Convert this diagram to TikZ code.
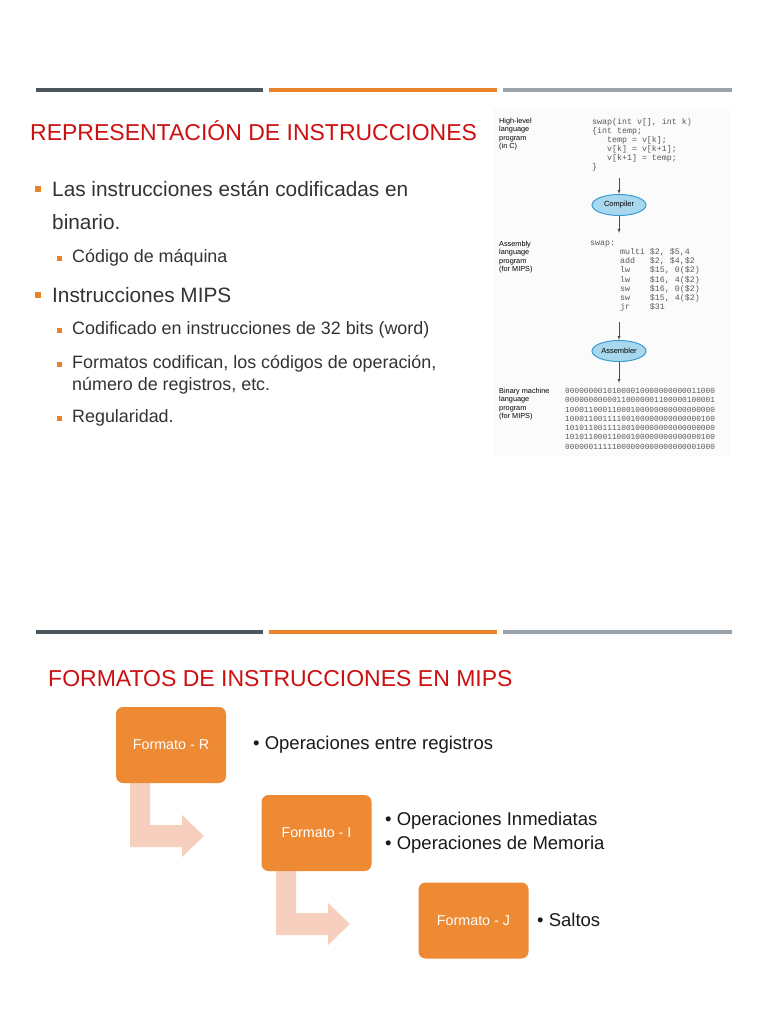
\documentclass[tikz,border=0pt]{standalone}
\usepackage{fontspec}
\setmainfont{Liberation Sans}
\setmonofont{Liberation Mono}
\usetikzlibrary{shapes.geometric}
\definecolor{dk}{HTML}{4A555C}
\definecolor{orn}{HTML}{E8832A}
\definecolor{gr}{HTML}{9BA3AA}
\definecolor{ttl}{HTML}{CC1010}
\definecolor{box}{HTML}{EE8A33}
\definecolor{pch}{HTML}{F6CFBE}
\definecolor{cyanfill}{HTML}{A8D8EE}
\definecolor{cyanline}{HTML}{3A9BD0}
\tikzset{
 rule/.style={line width=4pt},
 ttext/.style={anchor=west,text=ttl,font=\fontsize{23}{27}\selectfont,inner sep=0},
 b1/.style={anchor=west,font=\fontsize{20.8}{24}\selectfont,text=black!80,inner sep=0},
 b2/.style={anchor=west,font=\fontsize{17.9}{21}\selectfont,text=black!80,inner sep=0},
 sq/.style={fill=orn,minimum size=6pt,inner sep=0},
 lab/.style={anchor=north west,font=\fontsize{7.3}{8.3}\selectfont,align=left,inner sep=0},
 code/.style={anchor=north west,font=\ttfamily\fontsize{8.3}{9.1}\selectfont,align=left,inner sep=0,text=black!65},
 ell/.style={ellipse,draw=cyanline,fill=cyanfill,line width=1pt,minimum width=54pt,minimum height=21pt,font=\fontsize{7.5}{8}\selectfont,inner sep=0},
 arr/.style={->,>=latex,gray!60!black},
 fbox/.style={fill=box,rounded corners=7pt,minimum width=110pt,minimum height=76pt,text=white,font=\fontsize{14.3}{16}\selectfont},
 bt/.style={anchor=west,font=\fontsize{18.5}{24}\selectfont,align=left,inner sep=0,text=black!90},
 pa/.style={fill=pch}
}
\begin{document}
\begin{tikzpicture}[x=1pt,y=-1pt]
\useasboundingbox[fill=white] (0,0) rectangle (768,1024);
\foreach \yy in {90,632}{
 \draw[rule,dk] (36,\yy) -- (263,\yy);
 \draw[rule,orn] (269,\yy) -- (497,\yy);
 \draw[rule,gr] (503,\yy) -- (732,\yy);
}
\node[ttext] (t1) at (30,131) {REPRESENTACIÓN DE INSTRUCCIONES};
\node[sq] (s1) at (38,189) {}; \node[b1] (l1) at (52,189) {Las instrucciones están codificadas en};
\node[b1] (l1b) at (52,222) {binario.};
\node[sq,minimum size=5pt] (s2) at (59,258) {}; \node[b2] (l2) at (72,258) {Código de máquina};
\node[sq] (s3) at (38,295) {}; \node[b1] (l3) at (52,295) {Instrucciones MIPS};
\node[sq,minimum size=5pt] (s4) at (59,330) {}; \node[b2] (l4) at (72,330) {Codificado en instrucciones de 32 bits (word)};
\node[sq,minimum size=5pt] (s5) at (59,364) {}; \node[b2] (l5) at (72,364) {Formatos codifican, los códigos de operación,};
\node[b2] (l5b) at (72,386) {número de registros, etc.};
\node[sq,minimum size=5pt] (s6) at (59,418) {}; \node[b2] (l6) at (72,418) {Regularidad.};
% figure
\fill[black!1.5] (493,108) rectangle (730,456);
\node[lab] (h1) at (499,118) {High-level\\language\\program\\(in C)};
\node[code] (c1) at (592,118) {swap(int v[], int k)\\\{int temp;\\\ \ \ temp = v[k];\\\ \ \ v[k] = v[k+1];\\\ \ \ v[k+1] = temp;\\\}};
\node[ell] (comp) at (619,205) {Compiler};
\node[lab] (h2) at (499,241) {Assembly\\language\\program\\(for MIPS)};
\node[code] (c2) at (590,241) {swap:\\\ \ \ \ \ \ multi \$2, \$5,4\\\ \ \ \ \ \ add\ \ \ \$2, \$4,\$2\\\ \ \ \ \ \ lw\ \ \ \ \$15, 0(\$2)\\\ \ \ \ \ \ lw\ \ \ \ \$16, 4(\$2)\\\ \ \ \ \ \ sw\ \ \ \ \$16, 0(\$2)\\\ \ \ \ \ \ sw\ \ \ \ \$15, 4(\$2)\\\ \ \ \ \ \ jr\ \ \ \ \$31};
\node[ell] (asm) at (619,351) {Assembler};
\node[lab] (h3) at (499,388) {Binary machine\\language\\program\\(for MIPS)};
\node[code,font=\ttfamily\fontsize{7.8}{9.3}\selectfont] (c3) at (565,388) {00000000101000010000000000011000\\00000000000110000001100000100001\\10001100011000100000000000000000\\10001100111100100000000000000100\\10101100111100100000000000000000\\10101100011000100000000000000100\\00000011111000000000000000001000};
\coordinate (a1) at (619,178); \coordinate (a2) at (619,233);
\coordinate (a3) at (619,322); \coordinate (a4) at (619,383);
\draw[arr] (a1) -- (comp.north); \draw[arr] (comp.south) -- (a2);
\draw[arr] (a3) -- (asm.north); \draw[arr] (asm.south) -- (a4);
% bottom
\node[ttext] (t2) at (48,679) {FORMATOS DE INSTRUCCIONES EN MIPS};
\fill[pch] (130,783) -- (150,783) -- (150,825) -- (182,825) -- (182,815) -- (204,836) -- (182,857) -- (182,847) -- (130,847) -- cycle;
\fill[pch] (276,871) -- (296,871) -- (296,913) -- (328,913) -- (328,903) -- (350,924) -- (328,945) -- (328,935) -- (276,935) -- cycle;
\node[fbox] (fr) at (171,745) {Formato - R};
\node[fbox] (fi) at (316.5,833) {Formato - I};
\node[fbox] (fj) at (473.5,920.5) {Formato - J};
\node[bt] (br) at (253,745) {• Operaciones entre registros};
\node[bt] (bi) at (385,833) {• Operaciones Inmediatas\\• Operaciones de Memoria};
\node[bt] (bj) at (537,920) {• Saltos};
\end{tikzpicture}
\end{document}
